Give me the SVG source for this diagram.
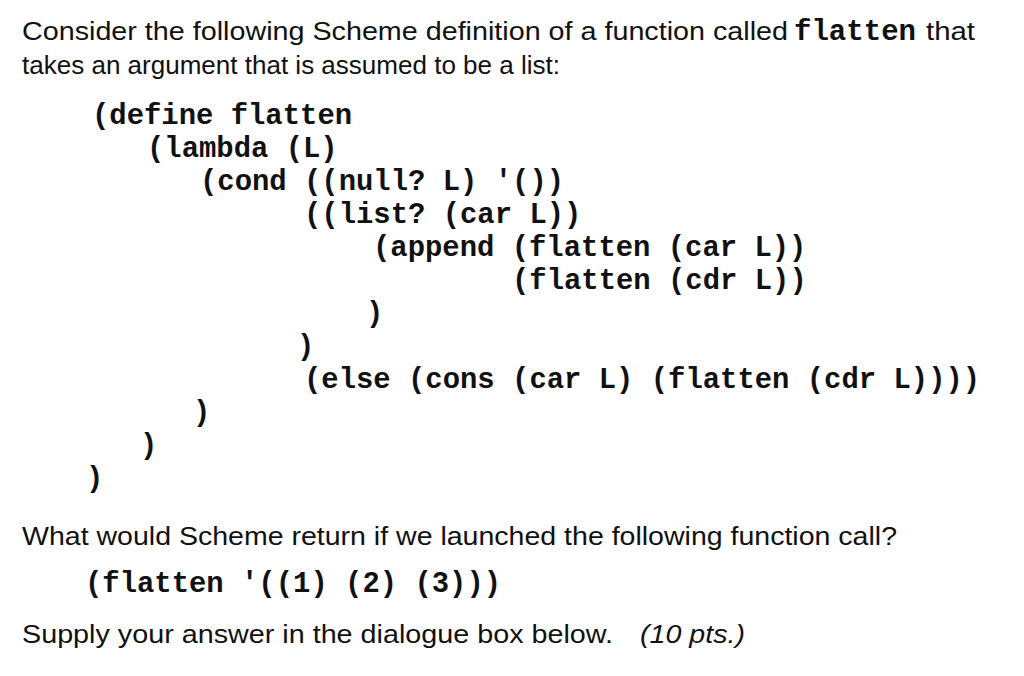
<svg xmlns="http://www.w3.org/2000/svg" width="1024" height="676" viewBox="0 0 1024 676">
<style>
.p{font-family:"Liberation Sans","DejaVu Sans",sans-serif;font-size:25px;fill:#111}
.m{font-family:"Liberation Mono","DejaVu Sans Mono",monospace;font-size:28.9px;font-weight:bold;fill:#111;white-space:pre}
</style>
<rect width="1024" height="676" fill="#fff"/>
<text class="p" x="22" y="40" textLength="766" lengthAdjust="spacingAndGlyphs">Consider the following Scheme definition of a function called</text>
<text class="m" x="794" y="40" font-size="25" textLength="122" lengthAdjust="spacingAndGlyphs">flatten</text>
<text class="p" x="926" y="40" textLength="49" lengthAdjust="spacingAndGlyphs">that</text>
<text class="p" x="22" y="74" textLength="538" lengthAdjust="spacingAndGlyphs">takes an argument that is assumed to be a list:</text>
<text class="m" xml:space="preserve" x="92" y="124">(define flatten</text>
<text class="m" xml:space="preserve" x="147" y="157">(lambda (L)</text>
<text class="m" xml:space="preserve" x="200" y="190">(cond ((null? L) '())</text>
<text class="m" xml:space="preserve" x="304" y="223">((list? (car L))</text>
<text class="m" xml:space="preserve" x="373" y="256">(append (flatten (car L))</text>
<text class="m" xml:space="preserve" x="512" y="289">(flatten (cdr L))</text>
<text class="m" xml:space="preserve" x="366" y="322">)</text>
<text class="m" xml:space="preserve" x="297" y="355">)</text>
<text class="m" xml:space="preserve" x="304" y="388">(else (cons (car L) (flatten (cdr L))))</text>
<text class="m" xml:space="preserve" x="193" y="421">)</text>
<text class="m" xml:space="preserve" x="140" y="454">)</text>
<text class="m" xml:space="preserve" x="86" y="487">)</text>
<text class="p" x="22" y="545" textLength="875" lengthAdjust="spacingAndGlyphs">What would Scheme return if we launched the following function call?</text>
<text class="m" xml:space="preserve" x="85" y="592">(flatten '((1) (2) (3)))</text>
<text class="p" x="22" y="643" textLength="591" lengthAdjust="spacingAndGlyphs">Supply your answer in the dialogue box below.</text>
<text class="p" x="640" y="643" font-style="italic" textLength="105" lengthAdjust="spacingAndGlyphs">(10 pts.)</text>
</svg>
